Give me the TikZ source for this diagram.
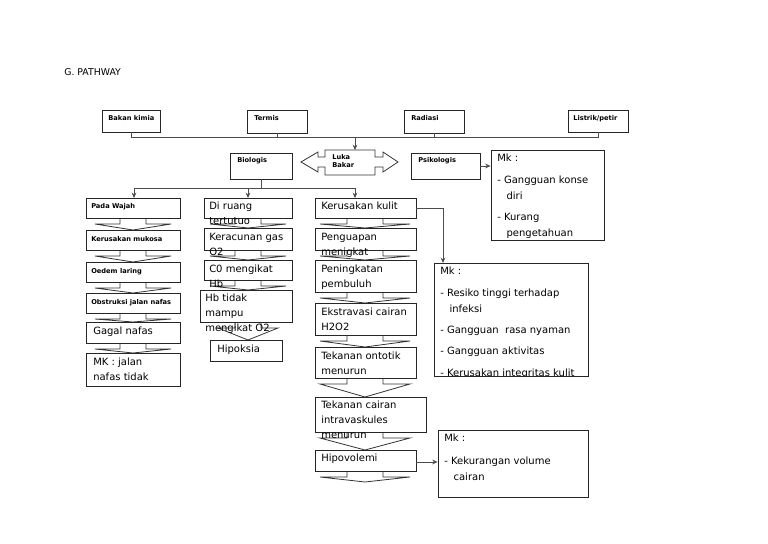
\documentclass[tikz,border=0pt]{standalone}
\usepackage{fontspec}
\setmainfont{DejaVu Sans}
\usetikzlibrary{fit,arrows.meta}
\begin{document}
\begin{tikzpicture}[x=0.75pt,y=-0.75pt,
  box/.style={draw=black!85,line width=0.6pt,fill=white,inner sep=0pt},
  big/.style={font=\fontsize{7.5}{11}\selectfont,anchor=north west,align=left,inner sep=0pt},
  sml/.style={font=\fontsize{5}{6}\selectfont\bfseries,anchor=north west,align=left,inner sep=0pt},
  ln/.style={line width=0.6pt,draw=black!70},
  ar/.style={ln,-{Stealth[length=4pt,width=3.5pt]}},
  ba/.style={line width=0.6pt,draw=black!80,fill=white}]
\useasboundingbox (0,0) rectangle (768,543);
\fill[white] (0,0) rectangle (768,543);
\newcommand\barr[5]{% cx yb yt shaft head
  \path[ba,draw=none] (#1-#4,#2) -- (#1-#4,#2+6) -- (#1-#5,#2+6) -- (#1,#3) -- (#1+#5,#2+6) -- (#1+#4,#2+6) -- (#1+#4,#2) -- cycle;
  \draw[ba,fill=none] (#1-#4,#2) -- (#1-#4,#2+6) -- (#1-#5,#2+6) -- (#1,#3) -- (#1+#5,#2+6) -- (#1+#4,#2+6) -- (#1+#4,#2);}
\node[anchor=west,font=\fontsize{7}{8}\selectfont,inner sep=0] (title) at (64,72) {G. PATHWAY};
% top causes
\node[box,fit={(102,110)(160,132)}] (bk) {};\node[sml] at (108,115) {Bakan kimia};
\node[box,fit={(247,110)(307,133)}] (tm) {};\node[sml] at (254,115) {Termis};
\node[box,fit={(404,110)(464,133)}] (rd) {};\node[sml] at (411,115) {Radiasi};
\node[box,fit={(568,110)(628,132)}] (lp) {};\node[sml] at (573,115) {Listrik/petir};
\coordinate (j) at (355,137);
\draw[ln] (bk.south) -- (bk.south |- j) -- (lp.south |- j) -- (lp.south);
\draw[ln] (tm.south) -- (tm.south |- j);
\draw[ln] (rd.south) -- (rd.south |- j);
% Luka bakar double arrow
\draw[ba] (325,150) -- (375,150) -- (375,157) -- (383,157) -- (383,152) -- (398,162) -- (383,172) -- (383,167) -- (375,167) -- (375,175) -- (325,175) -- (325,167) -- (318,167) -- (318,172) -- (301,162) -- (318,152) -- (318,157) -- (325,157) -- cycle;
\node[sml] (lb) at (332,154) {Luka\\Bakar};
\coordinate (lbt) at (355,150);
\draw[ar] (j) -- (lbt);
\node[box,fit={(230,153)(292,179)}] (bio) {};\node[sml] at (237,157) {Biologis};
\node[box,fit={(411,153)(480,179)}] (psi) {};\node[sml] at (418,157) {Psikologis};
\node[box,fit={(491,150)(604,240)}] (mk1) {};
\node[big,font=\fontsize{7.5}{12}\selectfont] at (497,154) {Mk :\\[4pt]- Gangguan konse\\\hspace*{7pt}diri\\[4pt]- Kurang\\\hspace*{7pt}pengetahuan};
\draw[ar] (psi.east |- 0,166) -- (mk1.west |- 0,166);
% biologis branches
\coordinate (bj) at (261,188);
\draw[ln] (bio.south) -- (bj);
\draw[ln] (134,188) -- (355,188);
\draw[ar] (134,188) -- (134,198);
\draw[ar] (248,188) -- (248,198);
\draw[ar] (355,188) -- (355,198);
% left column arrows
\barr{133}{218}{230}{13}{38}
\barr{133}{250}{262}{13}{38}
\barr{133}{282}{293}{13}{38}
\barr{133}{313}{322}{13}{38}
\barr{133}{343}{353}{13}{38}
\node[box,fit={(86,198)(180,218)}] (pw) {};\node[sml] at (91,203) {Pada Wajah};
\node[box,fit={(86,230)(180,250)}] (km) {};\node[sml] at (91,236) {Kerusakan mukosa};
\node[box,fit={(86,262)(180,282)}] (ol) {};\node[sml] at (91,268) {Oedem laring};
\node[box,fit={(86,293)(180,313)}] (oj) {};\node[sml] at (91,299) {Obstruksi jalan nafas};
\node[box,fit={(86,322)(180,343)}] (gn) {};\node[big] at (93,327) {Gagal nafas};
\node[box,fit={(86,353)(180,386)}] (mkj) {};\node[big] at (93,358) {MK : jalan\\nafas tidak};
% middle column
\barr{248}{218}{228}{13}{38}
\barr{248}{250}{260}{13}{38}
\barr{248}{280}{290}{13}{38}
\barr{248}{322}{340}{13}{30}
\node[box,fit={(204,198)(292,218)}] (dr) {};
\node[box,fit={(204,228)(292,250)}] (kg) {};
\node[box,fit={(204,260)(292,280)}] (co) {};
\node[box,fit={(200,290)(292,322)}] (hb) {};
\node[box,fit={(210,340)(282,361)}] (hp) {};
\node[big] at (209,202) {Di ruang\\tertutuo};
\node[big] at (209,233) {Keracunan gas\\O2};
\node[big] at (209,265) {C0 mengikat\\Hb};
\node[big] at (205,294) {Hb tidak\\mampu\\mengikat O2};
\node[big] at (217,345) {Hipoksia};
% right column
\barr{365}{218}{228}{18}{45}
\barr{365}{250}{260}{18}{45}
\barr{365}{292}{303}{18}{45}
\barr{365}{335}{347}{18}{45}
\barr{365}{378}{397}{18}{45}
\barr{365}{432}{450}{18}{45}
\barr{365}{471}{482}{18}{45}
\node[box,fit={(315,198)(416,218)}] (kk) {};
\node[box,fit={(315,228)(416,250)}] (pm) {};
\node[box,fit={(315,260)(416,292)}] (pp) {};
\node[box,fit={(315,303)(416,335)}] (eh) {};
\node[box,fit={(315,347)(416,378)}] (to) {};
\node[box,fit={(315,397)(426,432)}] (tc) {};
\node[box,fit={(315,450)(416,471)}] (hv) {};
\node[big] at (321,202) {Kerusakan kulit};
\node[big] at (321,233) {Penguapan\\menigkat};
\node[big] at (321,265) {Peningkatan\\pembuluh};
\node[big] at (321,308) {Ekstravasi cairan\\H2O2};
\node[big] at (321,352) {Tekanan ontotik\\menurun};
\node[big] at (321,401) {Tekanan cairan\\intravaskules\\menurun};
\node[big] at (321,454) {Hipovolemi};
% Mk box 2
\node[box,fit={(434,263)(588,376)}] (mk2) {};
\begin{scope}
\clip (434,263) rectangle (588,375);
\node[big,font=\fontsize{7.5}{12}\selectfont] at (440,267) {Mk :\\[4pt]- Resiko tinggi terhadap\\\hspace*{7pt}infeksi\\[4pt]- Gangguan\ \ rasa nyaman\\[4pt]- Gangguan aktivitas\\[4pt]- Kerusakan integritas kulit};
\end{scope}
\draw[ar] (kk.east) -- (443,208) -- (443,263);
% Mk box 3
\node[box,fit={(438,430)(588,497)}] (mk3) {};
\node[big,font=\fontsize{7.5}{12}\selectfont] at (444,434) {Mk :\\[5pt]- Kekurangan volume\\\hspace*{7pt}cairan};
\draw[ar] (hv.east |- 0,462) -- (mk3.west |- 0,462);
\end{tikzpicture}
\end{document}
